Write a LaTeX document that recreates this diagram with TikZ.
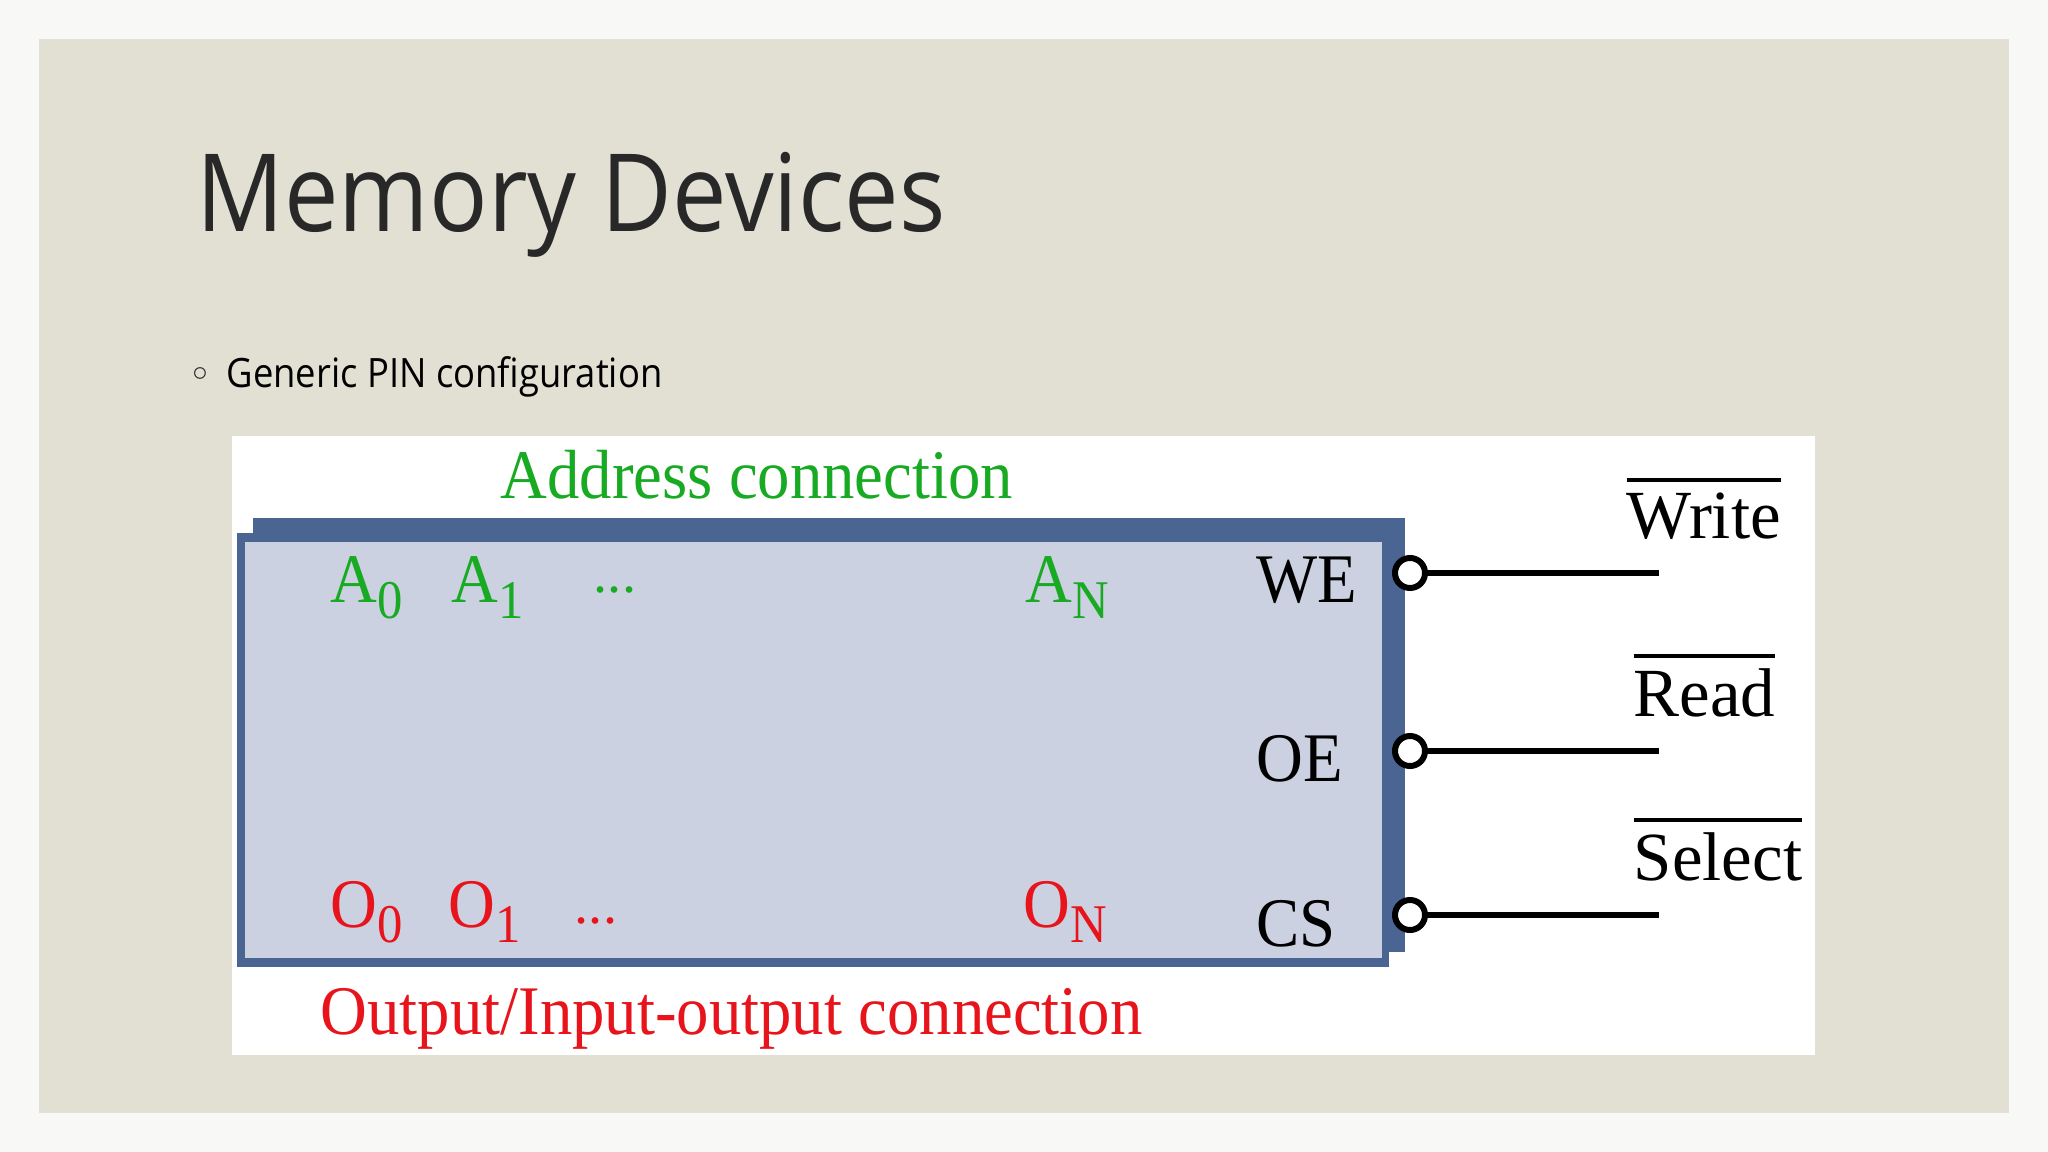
\documentclass[tikz,border=0pt]{standalone}
\usepackage{fontspec}
\newfontfamily\slidefont[FakeStretch=0.9]{Open Sans}
\newfontfamily\bulletfont{DejaVu Sans}
\newfontfamily\figfont[FakeStretch=0.93]{Liberation Serif}
\newfontfamily\sigfont{Liberation Serif}
\usetikzlibrary{positioning}
\definecolor{pagebg}{RGB}{248,248,246}
\definecolor{slidebg}{RGB}{226,223,211}
\definecolor{chipdark}{RGB}{74,101,146}
\definecolor{chiplight}{RGB}{203,209,225}
\definecolor{addrgreen}{RGB}{25,170,35}
\definecolor{datared}{RGB}{232,20,28}
\definecolor{titlegray}{RGB}{40,40,40}
\newcommand\pinsub[1]{\raisebox{-4.5pt}{\fontsize{15.5}{15.5}\selectfont #1}}
\newcommand\negsig[1]{\leavevmode\vbox{\hrule height 0.95pt\kern 3pt\hbox{#1}}}

\begin{document}
\begin{tikzpicture}[x=0.01cm,y=-0.01cm]
\tikzstyle{pin}=[inner sep=0pt, anchor=base west, font=\figfont\fontsize{19.8}{21}\selectfont]
\tikzstyle{addr}=[pin, text=addrgreen]
\tikzstyle{data}=[pin, text=datared]
\tikzstyle{ctrl}=[pin, text=black]
\tikzstyle{signal}=[pin, font=\sigfont\fontsize{19.6}{21}\selectfont]
\tikzstyle{dots}=[inner sep=0pt, anchor=center, font=\sigfont\fontsize{16}{16}\selectfont]
\tikzstyle{bubble}=[circle, draw=black, fill=white, line width=0.06cm, minimum size=0.30cm, inner sep=0pt]
\tikzstyle{connect}=[line width=0.065cm]
  \useasboundingbox (0,0) rectangle (2048,1152);
  \fill[pagebg] (0,0) rectangle (2048,1152);
  \fill[slidebg] (39,39) rectangle (2009,1113);
  \node[anchor=base west, inner sep=0pt, text=titlegray,
        font=\slidefont\fontsize{30.7}{36}\selectfont] (title) at (196,232) {Memory Devices};
  \node[anchor=center, inner sep=0pt, text=titlegray,
        font=\bulletfont\fontsize{11.5}{11.5}\selectfont] (bullet) at (200,378) {◦};
  \node[anchor=base west, inner sep=0pt, text=black,
        font=\slidefont\fontsize{11.5}{14}\selectfont] (subtitle) at (226,388) {Generic PIN configuration};
  % picture area and chip
  \fill[white] (232,436) rectangle (1815,1055);
  \fill[chipdark] (253,518) rectangle (1405,952);
  \fill[chipdark] (237,533) rectangle (1389,967);
  \fill[chiplight] (245,542) rectangle (1382,958);
  \node[addr] (addr) at (500,499) {Address connection};
  \node[data] (data) at (320,1034) {Output/Input-output connection};
  % address pins
  \node[addr] (a0) at (330,603) {A\pinsub{0}};
  \node[addr] (a1) at (451,603) {A\pinsub{1}};
  \node[dots, text=addrgreen] (adots) at (615,590) {...};
  \node[addr] (an) at (1025,603) {A\pinsub{N}};
  % data pins
  \node[data] (o0) at (330,927) {O\pinsub{0}};
  \node[data] (o1) at (448,927) {O\pinsub{1}};
  \node[dots, text=datared] (odots) at (596,921) {...};
  \node[data] (on) at (1023,927) {O\pinsub{N}};
  % control pins
  \node[ctrl] (we) at (1256,603) {WE};
  \node[ctrl] (oe) at (1256,781) {OE};
  \node[ctrl] (cs) at (1256,946) {CS};
  \node[bubble] (bwe) at (1410,573) {};
  \node[bubble] (boe) at (1410,751) {};
  \node[bubble] (bcs) at (1410,915) {};
  \coordinate (ewe) at (1659,573);
  \coordinate (eoe) at (1659,751);
  \coordinate (ecs) at (1659,915);
  \draw[connect] (bwe) -- (ewe);
  \draw[connect] (boe) -- (eoe);
  \draw[connect] (bcs) -- (ecs);
  \node[signal] (write) at (1626,538) {\negsig{Write}};
  \node[signal] (read) at (1633,716) {\negsig{Read}};
  \node[signal] (select) at (1633,880) {\negsig{Select}};
\end{tikzpicture}
\end{document}
